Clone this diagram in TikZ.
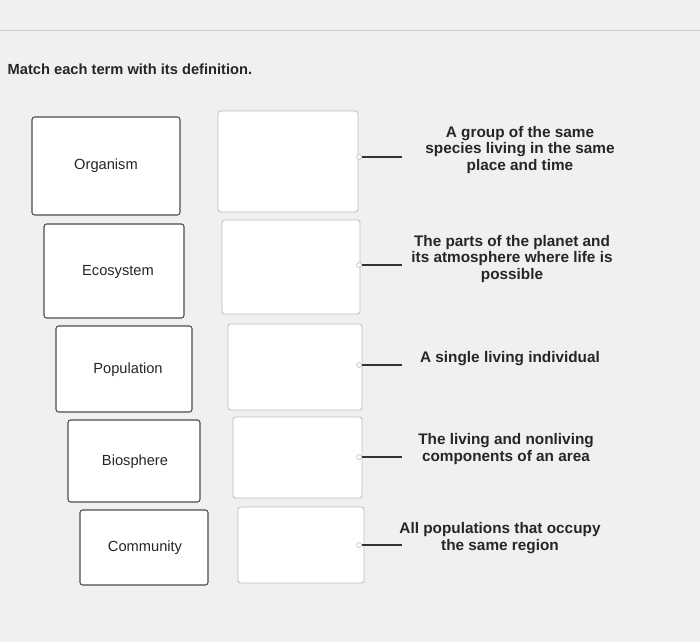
\documentclass[tikz,border=0pt]{standalone}
\usepackage{fontspec}
\setmainfont{Liberation Sans}
\begin{document}
\begin{tikzpicture}[x=0.75pt,y=-0.75pt,
  term/.style={draw=black!70,rounded corners=2pt,line width=0.8pt,fill=white},
  slot/.style={draw=black!25,rounded corners=2pt,line width=0.7pt,fill=white},
  lbl/.style={font=\fontsize{11}{13}\selectfont,text=black!85},
  def/.style={font=\bfseries\fontsize{11.5}{12.5}\selectfont,align=center,text=black!85},
  link/.style={draw=black!80,line width=0.9pt},
  dot/.style={circle,draw=black!30,fill=white,inner sep=1.3pt}]
\fill[black!6] (0,0) rectangle (700,642);
\useasboundingbox (0,0) rectangle (700,642);
\draw[black!20,line width=0.6pt] (0,30) -- (700,30);
\node[lbl,anchor=west] (q) at (3,69) {\bfseries Match each term with its definition.};
% term boxes
\draw[term] (32,117) rectangle (180,215); \node[lbl] (t1) at (106,166) {Organism};
\draw[term] (44,224) rectangle (184,318); \node[lbl] (t2) at (118,272) {Ecosystem};
\draw[term] (56,326) rectangle (192,412); \node[lbl] (t3) at (128,370) {Population};
\draw[term] (68,420) rectangle (200,502); \node[lbl] (t4) at (135,462) {Biosphere};
\draw[term] (80,510) rectangle (208,585); \node[lbl] (t5) at (145,548) {Community};
% slots
\draw[slot] (218,111) rectangle (358,212);
\draw[slot] (222,220) rectangle (360,314);
\draw[slot] (228,324) rectangle (362,410);
\draw[slot] (233,417) rectangle (362,498);
\draw[slot] (238,507) rectangle (364,583);
% connectors
\foreach \i/\y in {1/157,2/265,3/365,4/457,5/545}{
  \node[dot] (c\i) at (359,\y) {};
  \coordinate (e\i) at (402,\y);
  \draw[link] (c\i.east) -- (e\i);
}
\node[def] (d1) at (520,150) {A group of the same\\species living in the same\\place and time};
\node[def] (d2) at (512,259) {The parts of the planet and\\its atmosphere where life is\\possible};
\node[def] (d3) at (510,359) {A single living individual};
\node[def] (d4) at (506,449) {The living and nonliving\\components of an area};
\node[def] (d5) at (500,538) {All populations that occupy\\the same region};
\end{tikzpicture}
\end{document}
